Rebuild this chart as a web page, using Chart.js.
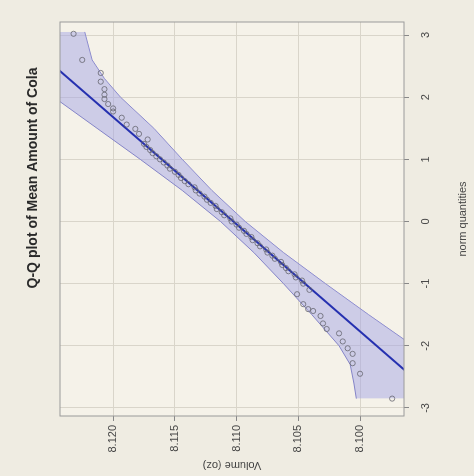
<!DOCTYPE html>
<html>
<head>
<meta charset="utf-8">
<script src="https://cdn.jsdelivr.net/npm/chart.js@4.4.0/dist/chart.umd.min.js"></script>
<style>
  html, body { margin: 0; padding: 0; background: #efece2; }
  #frame { position: relative; width: 474px; height: 476px; overflow: hidden; }
  #rot { position: absolute; left: -1px; top: 1px; width: 476px; height: 474px; transform: rotate(-90deg); }
</style>
</head>
<body>
<div id="frame"><div id="rot"><canvas id="qq" width="476" height="474"></canvas></div></div>
<script>
// theoretical quantiles and sample volumes
const quantiles = [-2.85, -2.45, -2.28, -2.13, -2.04, -1.93, -1.80, -1.73, -1.64, -1.52, -1.44, -1.41, -1.33, -1.17,
  -1.1, -1.0, -0.95, -0.9, -0.85, -0.8, -0.75, -0.7, -0.65, -0.6, -0.55, -0.5, -0.45, -0.4, -0.35, -0.3, -0.25,
  -0.2, -0.15, -0.1, -0.05, 0, 0.05, 0.1, 0.15, 0.2, 0.25, 0.3, 0.35, 0.4, 0.45, 0.5, 0.55, 0.6, 0.65, 0.7, 0.75,
  0.8, 0.85, 0.9, 0.95, 1.0, 1.05, 1.1, 1.15, 1.2, 1.25,
  1.32, 1.41, 1.49, 1.56, 1.67, 1.77, 1.82, 1.89, 1.97, 2.04, 2.13, 2.25, 2.39, 2.60, 3.02];
const volumes = [8.0974, 8.1000, 8.1006, 8.1006, 8.1010, 8.1014, 8.1017, 8.1027, 8.1030, 8.1032, 8.1038, 8.1042, 8.1046, 8.1051,
  8.1041, 8.1046, 8.1047, 8.1052, 8.1053, 8.1058, 8.1060, 8.1063, 8.1064, 8.1069, 8.1071, 8.1075, 8.1076, 8.1081, 8.1083, 8.1087, 8.1088,
  8.1092, 8.1094, 8.1098, 8.1100, 8.1104, 8.1105, 8.1110, 8.1112, 8.1116, 8.1117, 8.1121, 8.1124, 8.1126, 8.1130, 8.1133, 8.1134, 8.1139, 8.1142, 8.1145, 8.1147,
  8.1150, 8.1154, 8.1156, 8.1159, 8.1162, 8.1165, 8.1168, 8.1170, 8.1173, 8.1175,
  8.1172, 8.1179, 8.1182, 8.1189, 8.1193, 8.1200, 8.1200, 8.1204, 8.1207, 8.1207, 8.1207, 8.1210, 8.1210, 8.1225, 8.1232];

// reference line end points
const lineQ = [-3.2, 3.3];
const lineV = [8.0917, 8.1294];

// confidence envelope
const bandQ = [-2.85, -2.6, -2.3, -2.0, -1.5, -1.0, -0.5, 0, 0.5, 1.0, 1.5, 2.0, 2.3, 2.6, 3.05];
const bandLo = [8.0900, 8.0900, 8.0932, 8.0957, 8.0993, 8.1028, 8.1062, 8.1093, 8.1120, 8.1144, 8.1167, 8.1194, 8.1207, 8.1217, 8.1223];
const bandHi = [8.1003, 8.1005, 8.1008, 8.1017, 8.1039, 8.1062, 8.1086, 8.1113, 8.1144, 8.1178, 8.1213, 8.1248, 8.1300, 8.1300, 8.1300];

const qTicks = [-3, -2, -1, 0, 1, 2, 3];
const vTicks = [8.100, 8.105, 8.110, 8.115, 8.120];

const pairs = (xs, ys) => xs.map((x, i) => ({ x: x, y: ys[i] }));

const bgPlugin = {
  id: "bg",
  beforeDraw(chart) {
    const ctx = chart.ctx;
    ctx.save();
    ctx.fillStyle = "#efece2";
    ctx.fillRect(0, 0, chart.width, chart.height);
    const a = chart.chartArea;
    ctx.fillStyle = "#f5f2e9";
    ctx.fillRect(a.left, a.top, a.right - a.left, a.bottom - a.top);
    ctx.restore();
  },
  afterDraw(chart) {
    const ctx = chart.ctx;
    const a = chart.chartArea;
    ctx.save();
    ctx.strokeStyle = "#9a9a9a";
    ctx.lineWidth = 1;
    ctx.strokeRect(a.left, a.top, a.right - a.left, a.bottom - a.top);
    ctx.fillStyle = "#2a2a2a";
    ctx.font = "bold 14px Arial, 'Liberation Sans', sans-serif";
    ctx.textAlign = "center";
    ctx.textBaseline = "middle";
    ctx.fillText("Q-Q plot of Mean Amount of Cola", 298, 33);
    ctx.restore();
  }
};

new Chart(document.getElementById("qq"), {
  type: "scatter",
  data: {
    datasets: [
      {
        data: pairs(quantiles, volumes),
        pointStyle: "circle",
        pointRadius: 2.6,
        borderColor: "#666670",
        backgroundColor: "rgba(0,0,0,0)",
        borderWidth: 0.8,
        order: 0
      },
      {
        data: pairs(lineQ, lineV),
        showLine: true,
        pointRadius: 0,
        borderColor: "#2530b0",
        borderWidth: 2,
        order: 1
      },
      {
        data: pairs(bandQ, bandLo),
        showLine: true,
        pointRadius: 0,
        borderColor: "#8585c8",
        borderWidth: 1,
        fill: false,
        order: 3
      },
      {
        data: pairs(bandQ, bandHi),
        showLine: true,
        pointRadius: 0,
        borderColor: "#8585c8",
        borderWidth: 1,
        backgroundColor: "rgba(165,165,230,0.5)",
        fill: "-1",
        order: 2
      }
    ]
  },
  options: {
    responsive: false,
    animation: false,
    devicePixelRatio: 1,
    layout: { padding: { top: 60, right: 22, left: 0, bottom: 0 } },
    plugins: { legend: { display: false }, tooltip: { enabled: false } },
    scales: {
      x: {
        min: -3.13,
        max: 3.21,
        afterFit(scale) { scale.height = 70; },
        afterBuildTicks(scale) { scale.ticks = qTicks.map(v => ({ value: v })); },
        grid: { color: "#d9d5ca", drawTicks: true, tickLength: 5, tickColor: "#888" },
        border: { display: false },
        ticks: { color: "#444", padding: 10, font: { size: 11, family: "Arial, 'Liberation Sans', sans-serif" }, maxRotation: 0 },
        title: { display: true, text: "norm quantities", color: "#444", padding: { top: 8 }, font: { size: 11, family: "Arial, 'Liberation Sans', sans-serif" } }
      },
      y: {
        min: 8.09644,
        max: 8.1243,
        afterFit(scale) { scale.width = 60; },
        afterBuildTicks(scale) { scale.ticks = vTicks.map(v => ({ value: v })); },
        grid: { color: "#d9d5ca", drawTicks: true, tickLength: 5, tickColor: "#888" },
        border: { display: false },
        ticks: { color: "#444", padding: 4, font: { size: 11, family: "Arial, 'Liberation Sans', sans-serif" }, callback: v => v.toFixed(3) },
        title: { display: true, text: "Volume (oz)", color: "#444", padding: { bottom: 2 }, font: { size: 11, family: "Arial, 'Liberation Sans', sans-serif" } }
      }
    }
  },
  plugins: [bgPlugin]
});
</script>
</body>
</html>
